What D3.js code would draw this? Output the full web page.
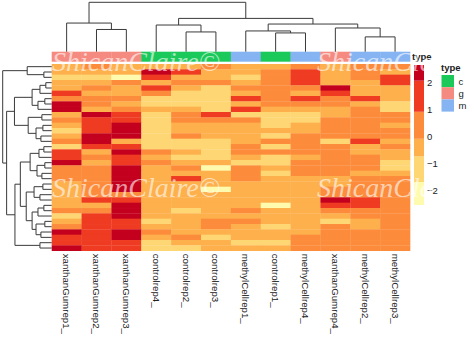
<!DOCTYPE html>
<html>
<head>
<meta charset="utf-8">
<script src="https://cdn.jsdelivr.net/npm/d3@7/dist/d3.min.js"></script>
<style>
  html, body { margin: 0; padding: 0; background: #fff; }
  svg { display: block; }
</style>
</head>
<body>
<svg id="chart" width="474" height="338"></svg>
<script>
// ---- data ----
const samples = ["xanthanGumrep1_", "xanthanGumrep2_", "xanthanGumrep3_", "controlrep4_",
  "controlrep2_", "controlrep3_", "methylCellrep1_", "controlrep1_", "methylCellrep4_",
  "xanthanGumrep4_", "methylCellrep2_", "methylCellrep3_"];
const sampleType = ["g", "g", "g", "c", "c", "c", "m", "c", "m", "g", "m", "m"];
const typeLevels = ["c", "g", "m"];
const legendTicks = [-2, -1, 0, 1, 2];

// scaled expression, one row per gene (in clustered order), one value per sample
const values = [
  [-0.4, 0.4, -0.4, -0.4, -0.4, 0.4, -0.4, -0.4, 0.4, -0.4, 0.4, 0.4],
  [-0.4, -0.4, -0.4, 2.3, 1.5, -0.4, -0.4, 0.4, 1.5, -0.4, 0.4, -0.4],
  [-1.2, -1.2, -2.1, 1.5, -0.4, -0.4, -1.2, 0.4, 1.5, -0.4, 0.4, 1.5],
  [-0.4, -0.4, 0.4, -0.4, 0.4, 0.4, -0.4, 0.4, 1.5, -0.4, -0.4, 1.5],
  [-0.4, 0.4, -0.4, 1.5, -0.4, -1.2, 0.4, 0.4, 0.4, 2.3, -0.4, -0.4],
  [1.5, -0.4, -0.4, 0.4, -1.2, -1.2, -0.4, 0.4, -0.4, 1.5, -0.4, -0.4],
  [0.4, 0.4, 0.4, -1.2, -1.2, -1.2, 1.5, 0.4, 1.5, 0.4, 1.5, -0.4],
  [2.3, 0.4, -0.4, -1.2, -1.2, -1.2, -0.4, 0.4, 0.4, 0.4, -0.4, -1.2],
  [2.3, -0.4, 0.4, -0.4, -0.4, -1.2, 1.5, -0.4, -0.4, -0.4, 0.4, -1.2],
  [-0.4, 2.3, 1.5, -1.2, 0.4, 1.5, -1.2, -1.2, -1.2, -0.4, 0.4, 0.4],
  [0.4, 1.5, 1.5, -1.2, 0.4, 0.4, 0.4, -1.2, -1.2, 0.4, 0.4, 0.4],
  [-0.4, 1.5, 2.3, -1.2, -0.4, -0.4, -0.4, -1.2, -0.4, 0.4, 0.4, -0.4],
  [-1.2, 1.5, 2.3, -1.2, -0.4, -0.4, -0.4, -0.4, -0.4, 0.4, 0.4, 0.4],
  [-0.4, 2.3, 2.3, -1.2, 0.4, -0.4, -0.4, -1.2, 0.4, 0.4, 0.4, 0.4],
  [0.4, 2.3, -0.4, -1.2, -1.2, -1.2, -0.4, 0.4, 0.4, -1.2, 1.5, -0.4],
  [-1.2, 1.5, 1.5, -1.2, -1.2, -1.2, 0.4, -1.2, 0.4, 0.4, -0.4, 0.4],
  [1.5, -0.4, 2.3, 0.4, -0.4, -1.2, 0.4, 0.4, 0.4, 0.4, -0.4, -0.4],
  [1.5, 0.4, 1.5, -0.4, -1.2, -1.2, -0.4, -1.2, -0.4, 0.4, 0.4, -0.4],
  [2.3, -0.4, 1.5, 0.4, -0.4, -0.4, -1.2, -1.2, 0.4, 0.4, 0.4, -1.2],
  [0.4, 0.4, 2.3, -0.4, 0.4, -2.1, 0.4, -0.4, 0.4, 0.4, 0.4, -1.2],
  [0.4, 0.4, 2.3, -0.4, -0.4, -0.4, 0.4, -1.2, 0.4, 0.4, -0.4, -0.4],
  [0.4, 0.4, 2.3, -0.4, 1.5, -0.4, 0.4, -0.4, -0.4, -0.4, 0.4, 0.4],
  [-0.4, 0.4, 2.3, -0.4, -0.4, -0.4, -0.4, -0.4, -0.4, -0.4, 0.4, 0.4],
  [-0.4, 0.4, 2.3, -0.4, -0.4, -2.1, -0.4, -0.4, -0.4, 0.4, 0.4, 0.4],
  [-0.4, 0.4, 0.4, -0.4, -0.4, -0.4, -0.4, -0.4, -0.4, 0.4, 0.4, 0.4],
  [-0.4, 1.5, 1.5, -0.4, -0.4, -0.4, -0.4, -0.4, -0.4, 2.3, 1.5, 0.4],
  [-0.4, -0.4, 2.3, -0.4, -0.4, -0.4, -0.4, -2.1, -0.4, 1.5, 1.5, 0.4],
  [0.4, 0.4, 2.3, -0.4, -1.2, -0.4, 0.4, -0.4, -0.4, 0.4, 0.4, 0.4],
  [-1.2, 1.5, 2.3, -0.4, -0.4, -0.4, -0.4, -0.4, -0.4, -0.4, 0.4, 0.4],
  [-0.4, 1.5, 1.5, -1.2, -0.4, 0.4, 0.4, -0.4, -0.4, -1.2, -0.4, 0.4],
  [0.4, 1.5, 1.5, -0.4, -0.4, 0.4, -0.4, -1.2, -0.4, 0.4, -0.4, 0.4],
  [2.3, 1.5, 2.3, 0.4, -0.4, -0.4, -0.4, -0.4, -0.4, 0.4, 0.4, 0.4],
  [1.5, 1.5, 2.3, -0.4, 0.4, -1.2, -0.4, -0.4, 0.4, 0.4, 0.4, 0.4],
  [1.5, 1.5, 1.5, -1.2, -0.4, -0.4, -1.2, -1.2, 0.4, 0.4, 0.4, 0.4],
  [2.3, 1.5, 1.5, -1.2, -1.2, -0.4, -0.4, -0.4, 0.4, 0.4, 0.4, 0.4]
];

// column clustering: [height, left, right]; leaves are sample indices
const colTree = [50, [29, 0, [22.5, 1, 2]],
  [33.7, [27, 3, [20, 4, 5]], [28, [21, 6, [19, 7, 8]], [24, 9, [15, 10, 11]]]]];

// row clustering: [height, left, right]; leaves are row indices
const rowTree = [50,
  [25, 0, [8, 1, 2]],
  [46,
    [38,
      [20, [12, [6, 3, 4], 5], [14, [7, 6, 7], 8]],
      [24, [10, 9, 10], [16, [9, 11, 12], [11, 13, 14]]]],
    [37.5,
      [32,
        [22, [13, [8, 15, 16], 17], [15, [7, 18, 19], [10, 20, 21]]],
        [26, [18, [9, 22, 23], [12, 24, 25]], [20, [14, [8, 26, 27], 28], [16, [7, 29, 30], [11, 31, 32]]]]],
      [12, 33, 34]]]];

// ---- drawing ----
const svg = d3.select("#chart");
svg.append("rect").attr("width", 474).attr("height", 338).attr("fill", "#fff");

const hm = { left: 51.7, right: 410, top: 64, bottom: 250.7 };
const x = d3.scaleBand().domain(d3.range(samples.length)).range([hm.left, hm.right]);
const y = d3.scaleBand().domain(d3.range(values.length)).range([hm.top, hm.bottom]);

const breaks = [-1.7, -0.75, -0.1, 0.9, 2.05];
const palette = ["#FFFBAE", "#FED673", "#FDB04B", "#FC8C3B", "#EE3B21", "#C4001F"];
const color = d3.scaleThreshold().domain(breaks).range(palette);
const typeColor = d3.scaleOrdinal().domain(typeLevels).range(["#1BC95A", "#F58B80", "#86B4F2"]);

// heatmap cells
const cells = [];
values.forEach((row, i) => row.forEach((v, j) => cells.push({ i, j, v })));
svg.append("g").selectAll("rect").data(cells).join("rect")
  .attr("x", d => x(d.j)).attr("y", d => y(d.i))
  .attr("width", x.bandwidth() + 0.3).attr("height", y.bandwidth() + 0.3)
  .attr("fill", d => color(d.v));

// annotation bar
const annTop = 51.7, annBottom = 61.7;
svg.append("g").selectAll("rect").data(sampleType).join("rect")
  .attr("x", (d, j) => x(j)).attr("y", annTop)
  .attr("width", x.bandwidth() + 0.3).attr("height", annBottom - annTop)
  .attr("fill", d => typeColor(d));
svg.append("text").attr("x", 412).attr("y", (annTop + annBottom) / 2)
  .attr("dominant-baseline", "central").attr("font-family", "Liberation Sans, Arial, sans-serif")
  .attr("font-size", 9.5).attr("font-weight", "bold").attr("fill", "#222").text("type");

// dendrograms
function drawTree(g, tree, leafPos, hScale, horizontal) {
  // returns [position, height] of the node
  function walk(node) {
    if (typeof node === "number") return [leafPos(node), 0];
    const [h, a, b] = node;
    const A = walk(a), B = walk(b);
    const p = (A[0] + B[0]) / 2;
    const pts = [[A[0], hScale(A[1])], [A[0], hScale(h)], [B[0], hScale(h)], [B[0], hScale(B[1])]];
    const line = horizontal ? pts : pts.map(([u, v]) => [v, u]);
    g.append("path").attr("d", d3.line()(line));
    return [p, h];
  }
  walk(tree);
}
const colG = svg.append("g").attr("fill", "none").attr("stroke", "#3a3a3a").attr("stroke-width", 1);
drawTree(colG, colTree, j => x(j) + x.bandwidth() / 2,
  d3.scaleLinear().domain([0, 50]).range([annTop, 2.3]), true);
const rowG = svg.append("g").attr("fill", "none").attr("stroke", "#3a3a3a").attr("stroke-width", 1);
drawTree(rowG, rowTree, i => y(i) + y.bandwidth() / 2,
  d3.scaleLinear().domain([0, 50]).range([hm.left, 2.7]), false);

// column labels
svg.append("g").selectAll("text").data(samples).join("text")
  .attr("transform", (d, j) => `translate(${x(j) + x.bandwidth() / 2},${hm.bottom + 3}) rotate(90)`)
  .attr("dominant-baseline", "central")
  .attr("font-family", "Liberation Sans, Arial, sans-serif").attr("font-size", 9.7)
  .attr("fill", "#222").text(d => d);

// colour legend
const lg = { x: 414, w: 10, top: 65, bottom: 205 };
const ly = d3.scaleLinear().domain([-2.55, 2.63]).range([lg.bottom, lg.top]);
const bounds = [-2.55, ...breaks, 2.63];
const legend = svg.append("g");
legend.selectAll("rect").data(palette).join("rect")
  .attr("x", lg.x).attr("width", lg.w)
  .attr("y", (d, k) => ly(bounds[k + 1])).attr("height", (d, k) => ly(bounds[k]) - ly(bounds[k + 1]))
  .attr("fill", d => d);
legend.selectAll("text").data(legendTicks).join("text")
  .attr("x", lg.x + lg.w + 3).attr("y", d => ly(d)).attr("dominant-baseline", "central")
  .attr("font-family", "Liberation Sans, Arial, sans-serif").attr("font-size", 9.5).attr("fill", "#222")
  .text(d => d < 0 ? "\u2212" + Math.abs(d) : d);

// annotation legend
const al = svg.append("g").attr("font-family", "Liberation Sans, Arial, sans-serif").attr("fill", "#222");
al.append("text").attr("x", 441).attr("y", 71).attr("font-size", 9.5).attr("font-weight", "bold").text("type");
al.selectAll("rect").data(typeLevels).join("rect")
  .attr("x", 441.5).attr("y", (d, k) => 75 + k * 12.2).attr("width", 12.5).attr("height", 12.2)
  .attr("fill", d => typeColor(d));
al.selectAll("text.lab").data(typeLevels).join("text").attr("class", "lab")
  .attr("x", 458.5).attr("y", (d, k) => 75 + k * 12.2 + 6.1).attr("dominant-baseline", "central")
  .attr("font-size", 9.5).text(d => d);

// watermark (the right-hand copies run into the page edge, so only their visible start is set)
const wm = svg.append("g").attr("font-family", "Liberation Serif, Times New Roman, serif")
  .attr("font-style", "italic").attr("font-size", 28).attr("fill", "#fff").attr("fill-opacity", 0.6);
[[52, 71, "ShicanClaire\u00A9"], [317, 71, "ShicanCla"],
 [52, 197, "ShicanClaire\u00A9"], [317, 197, "ShicanCla"]].forEach(([px, py, t]) =>
  wm.append("text").attr("x", px).attr("y", py).text(t));
</script>
</body>
</html>
